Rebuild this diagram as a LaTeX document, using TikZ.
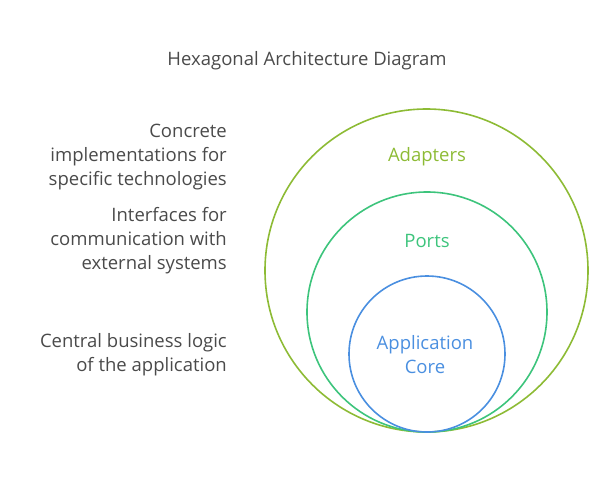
\documentclass[tikz,border=0pt]{standalone}
\usepackage{fontspec}
\setmainfont{Open Sans}
\definecolor{cA}{HTML}{8DBB35}
\definecolor{cP}{HTML}{3DC47C}
\definecolor{cC}{HTML}{4A8FE0}
\definecolor{tx}{HTML}{4A4A4A}
\begin{document}
\begin{tikzpicture}[x=1pt,y=-1pt,
  lbl/.style={font=\fontsize{18.5}{24}\selectfont, text=tx, align=right, anchor=east, inner sep=0pt},
  ring/.style={draw, line width=1.6pt}]
\useasboundingbox (0,0) rectangle (614,483);
\node[font=\fontsize{18.5}{22}\selectfont, text=tx] (title) at (307,61) {Hexagonal Architecture Diagram};
\draw[ring, cA] (426.5,270.5) circle (161.5);
\draw[ring, cP] (427,312) circle (120);
\draw[ring, cC] (427,354) circle (78);
\node[font=\fontsize{18.5}{22}\selectfont, text=cA] (ad) at (427,157) {Adapters};
\node[font=\fontsize{18.5}{22}\selectfont, text=cP] (po) at (427,241) {Ports};
\node[font=\fontsize{18.5}{24}\selectfont, text=cC, align=center] (co) at (425,355) {Application\\Core};
\node[lbl] (l1) at (227,157) {Concrete\\implementations for\\specific technologies};
\node[lbl] (l2) at (227,241) {Interfaces for\\communication with\\external systems};
\node[lbl] (l3) at (227,355) {Central business logic\\of the application};
\end{tikzpicture}
\end{document}
